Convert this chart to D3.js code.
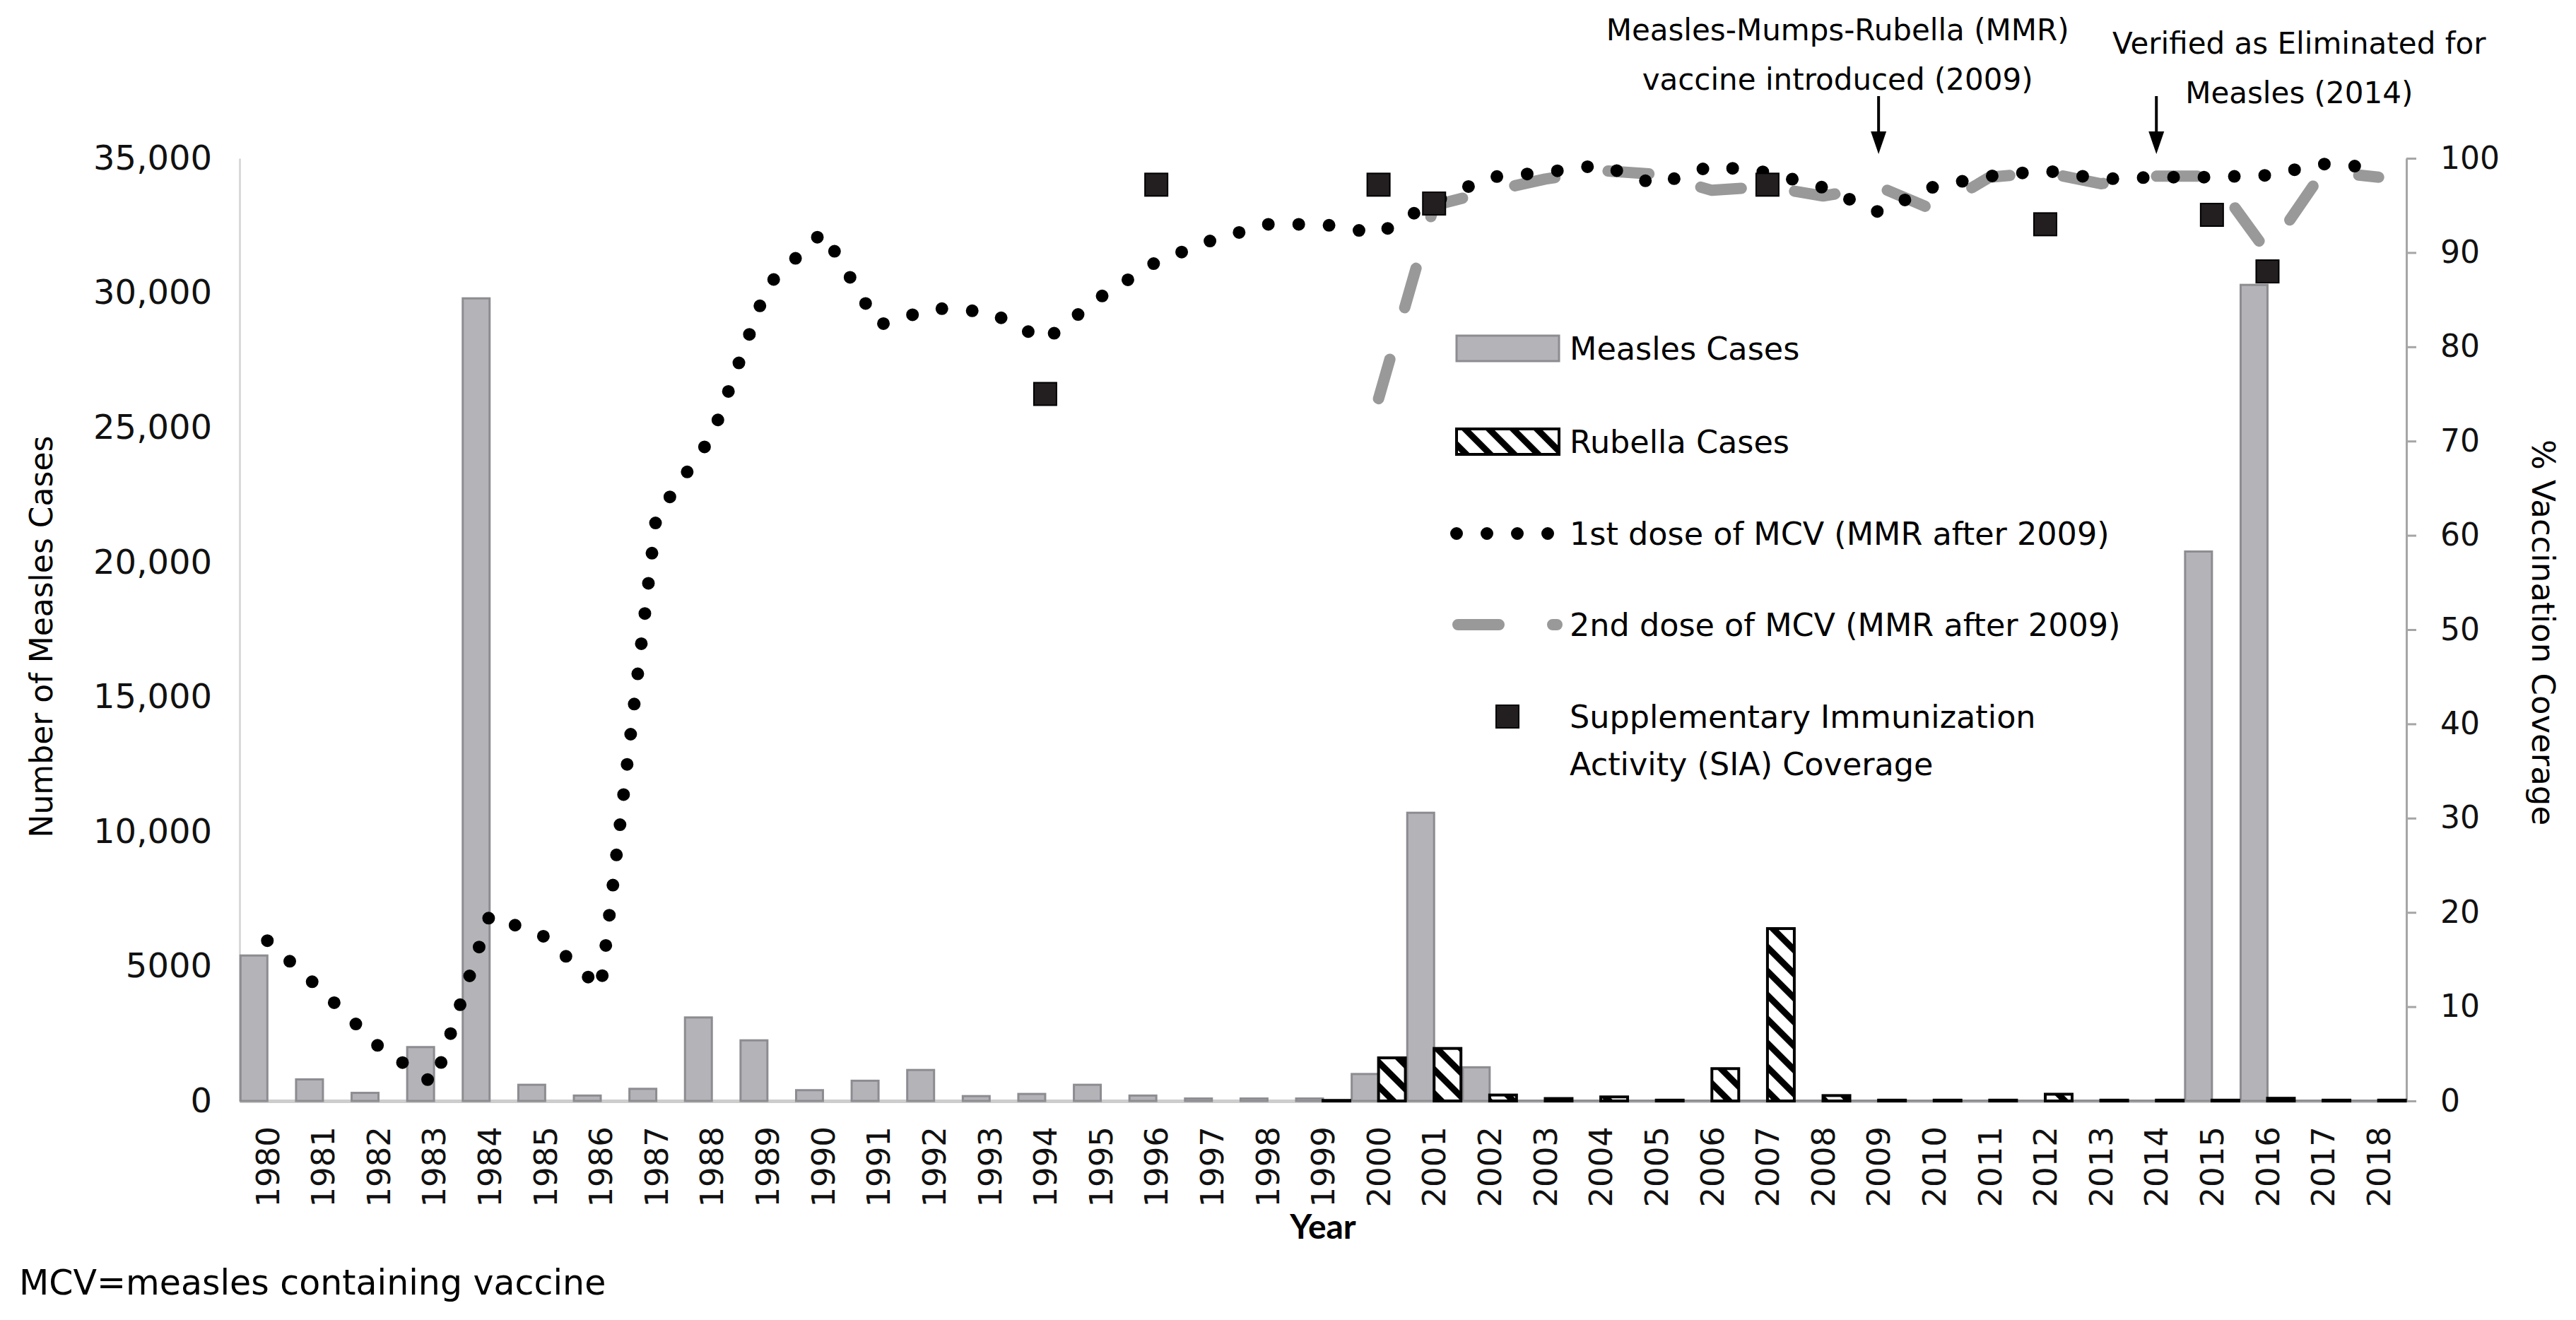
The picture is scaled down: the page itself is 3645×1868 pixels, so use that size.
<!DOCTYPE html>
<html>
<head>
<meta charset="utf-8">
<script src="https://cdnjs.cloudflare.com/ajax/libs/d3/7.8.5/d3.min.js"></script>
<style>
  html, body { margin: 0; padding: 0; background: #fff; }
  svg { display: block; }
</style>
</head>
<body>
<div id="chart"></div>
<script>
var years = ["1980","1981","1982","1983","1984","1985","1986","1987","1988","1989",
             "1990","1991","1992","1993","1994","1995","1996","1997","1998","1999",
             "2000","2001","2002","2003","2004","2005","2006","2007","2008","2009",
             "2010","2011","2012","2013","2014","2015","2016","2017","2018"];

var measlesCases = [5400, 800, 300, 2000, 29800, 600, 200, 450, 3100, 2250,
                    400, 750, 1150, 180, 260, 600, 200, 90, 90, 90,
                    1000, 10700, 1250, 10, 10, 10, 10, 10, 10, 10,
                    10, 10, 10, 10, 10, 20400, 30300, 10, 10];

var rubellaCases = [null, null, null, null, null, null, null, null, null, null,
                    null, null, null, null, null, null, null, null, null, 20,
                    1600, 1950, 220, 90, 150, 30, 1200, 6400, 200, 30,
                    30, 30, 250, 30, 30, 30, 100, 30, 30];

var firstDoseMCV = [17, 11.6, 5.8, 1.8, 19.7, 17.4, 11.9, 62, 70.5, 86.5,
                    92.2, 82.3, 84.1, 83.7, 80.7, 85.3, 89.0, 91.3, 93.0, 93.0,
                    92.0, 95.4, 98.0, 98.5, 99.3, 97.2, 99.2, 98.5, 96.9, 94.3,
                    97.0, 98.1, 98.7, 97.8, 98.0, 98.0, 98.2, 99.4, 99.0];

var secondDoseMCV = [null, null, null, null, null, null, null, null, null, null,
                     null, null, null, null, null, null, null, null, null, null,
                     74.5, 95.0, 96.5, 97.8, 98.7, 98.3, 96.6, 97.0, 96.0, 97.0,
                     94.5, 98.0, 98.5, 97.3, 98.1, 98.1, 90.0, 98.6, 98.0];

var siaYears = ["1994", "1996", "2000", "2001", "2007", "2012", "2015", "2016"];
var siaCoverage = [75, 97.2, 97.2, 95.2, 97.2, 93, 94, 88];

var casesTicks = [0, 5000, 10000, 15000, 20000, 25000, 30000, 35000];
var coverageTicks = [0, 10, 20, 30, 40, 50, 60, 70, 80, 90, 100];

var legendLabels = [["Measles Cases"], ["Rubella Cases"],
                    ["1st dose of MCV (MMR after 2009)"], ["2nd dose of MCV (MMR after 2009)"],
                    ["Supplementary Immunization", "Activity (SIA) Coverage"]];

var notes = [{year: "2009", lines: ["Measles-Mumps-Rubella (MMR)", "vaccine introduced (2009)"]},
             {year: "2014", lines: ["Verified as Eliminated for", "Measles (2014)"]}];

var width = 3645, height = 1868;
var margin = {top: 224, right: 240, bottom: 310, left: 339};
var FONT = "'DejaVu Sans', sans-serif";
var measlesFill = "#b3b3b8", measlesStroke = "#8c8c91";
var dose2Color = "#999999";

var svg = d3.select("#chart").append("svg").attr("width", width).attr("height", height);
svg.append("rect").attr("width", width).attr("height", height).attr("fill", "#fff");

var defs = svg.append("defs");
var hatch = defs.append("pattern").attr("id", "hatch").attr("patternUnits", "userSpaceOnUse")
  .attr("width", 24).attr("height", 24).attr("patternTransform", "rotate(-45)");
hatch.append("rect").attr("width", 24).attr("height", 24).attr("fill", "#fff");
hatch.append("rect").attr("width", 9).attr("height", 24).attr("fill", "#000");

var rows = years.map(function(y, i) {
  return {year: y, measles: measlesCases[i], rubella: rubellaCases[i], d1: firstDoseMCV[i], d2: secondDoseMCV[i]};
});

var x = d3.scaleBand().domain(years).range([margin.left, width - margin.right]).padding(0);
var xs = d3.scaleBand().domain(["measles", "rubella"]).range([0, x.bandwidth()]).paddingInner(0).paddingOuter(0.035);
var yL = d3.scaleLinear().domain([0, 35000]).range([height - margin.bottom, margin.top]);
var yR = d3.scaleLinear().domain([0, 100]).range([height - margin.bottom, margin.top]);
function cx(y) { return x(y) + x.bandwidth() / 2; }

// axes
var gL = svg.append("g").attr("transform", "translate(" + margin.left + ",0)")
  .call(d3.axisLeft(yL).tickValues(casesTicks).tickSize(0).tickSizeOuter(0).tickPadding(39)
    .tickFormat(function(d) { return d >= 10000 ? d3.format(",")(d) : d; }));
gL.attr("font-family", FONT).attr("font-size", 48);
gL.select(".domain").attr("stroke", "#d9d9d9").attr("stroke-width", 3);
gL.selectAll("text").attr("fill", "#111");

var gR = svg.append("g").attr("transform", "translate(" + (width - margin.right) + ",0)")
  .call(d3.axisRight(yR).tickValues(coverageTicks).tickSize(14).tickSizeOuter(0).tickPadding(34));
gR.attr("font-family", FONT).attr("font-size", 44);
gR.select(".domain").attr("stroke", "#a6a6a6").attr("stroke-width", 3);
gR.selectAll(".tick line").attr("stroke", "#a6a6a6").attr("stroke-width", 3);
gR.selectAll("text").attr("fill", "#111");

var gX = svg.append("g").attr("transform", "translate(0," + (height - margin.bottom) + ")")
  .call(d3.axisBottom(x).tickSize(0).tickSizeOuter(0));
gX.attr("font-family", FONT).attr("font-size", 45);
gX.select(".domain").attr("stroke", "#cdcdcd").attr("stroke-width", 5);
gX.selectAll("text").attr("fill", "#111").attr("transform", "rotate(-90)")
  .attr("x", -36).attr("y", 0).attr("dy", "0.36em").style("text-anchor", "end");

// bars
svg.append("g").selectAll("rect").data(rows).enter().append("rect")
  .attr("x", function(d) { return x(d.year) + xs("measles"); })
  .attr("y", function(d) { return yL(d.measles); })
  .attr("width", xs.bandwidth())
  .attr("height", function(d) { return yL(0) - yL(d.measles); })
  .attr("fill", measlesFill).attr("stroke", measlesStroke).attr("stroke-width", 3);

svg.append("g").selectAll("rect").data(rows.filter(function(d) { return d.rubella != null; })).enter().append("rect")
  .attr("x", function(d) { return x(d.year) + xs("rubella"); })
  .attr("y", function(d) { return yL(d.rubella); })
  .attr("width", xs.bandwidth())
  .attr("height", function(d) { return yL(0) - yL(d.rubella); })
  .attr("fill", "url(#hatch)").attr("stroke", "#000").attr("stroke-width", 4);

// coverage lines
var line1 = d3.line().x(function(d) { return cx(d.year); }).y(function(d) { return yR(d.d1); });
var line2 = d3.line().defined(function(d) { return d.d2 != null; })
  .x(function(d) { return cx(d.year); }).y(function(d) { return yR(d.d2); });

svg.append("path").datum(rows).attr("d", line2).attr("fill", "none")
  .attr("stroke", dose2Color).attr("stroke-width", 16).attr("stroke-linecap", "round")
  .attr("stroke-linejoin", "round").attr("stroke-dasharray", "58 76");
svg.append("path").datum(rows).attr("d", line1).attr("fill", "none")
  .attr("stroke", "#000").attr("stroke-width", 18).attr("stroke-linecap", "round")
  .attr("stroke-dasharray", "0 43");

// SIA squares
svg.append("g").selectAll("rect").data(siaYears).enter().append("rect")
  .attr("x", function(d) { return cx(d) - 16; })
  .attr("y", function(d, i) { return yR(siaCoverage[i]) - 16; })
  .attr("width", 32).attr("height", 32)
  .attr("fill", "#231f20").attr("stroke", "#000").attr("stroke-width", 2);

// legend
var lgX = 2061, lgW = 145, lgText = 2221;
var lgY = [493, 625, 755, 884, 1014];
var lg = svg.append("g").attr("font-family", FONT).attr("font-size", 44.5).attr("fill", "#000");
lg.append("rect").attr("x", lgX).attr("y", lgY[0] - 18).attr("width", lgW).attr("height", 36)
  .attr("fill", measlesFill).attr("stroke", measlesStroke).attr("stroke-width", 3);
lg.append("rect").attr("x", lgX).attr("y", lgY[1] - 18).attr("width", lgW).attr("height", 36)
  .attr("fill", "url(#hatch)").attr("stroke", "#000").attr("stroke-width", 4);
lg.append("line").attr("x1", lgX).attr("x2", lgX + 135).attr("y1", lgY[2]).attr("y2", lgY[2])
  .attr("stroke", "#000").attr("stroke-width", 18).attr("stroke-linecap", "round").attr("stroke-dasharray", "0 43");
lg.append("line").attr("x1", 2063).attr("x2", 2203).attr("y1", lgY[3]).attr("y2", lgY[3])
  .attr("stroke", dose2Color).attr("stroke-width", 16).attr("stroke-linecap", "round").attr("stroke-dasharray", "58 76");
lg.append("rect").attr("x", 2117).attr("y", lgY[4] - 16).attr("width", 32).attr("height", 32)
  .attr("fill", "#231f20").attr("stroke", "#000").attr("stroke-width", 2);
legendLabels.forEach(function(lines, i) {
  lines.forEach(function(t, j) {
    lg.append("text").attr("x", lgText).attr("y", lgY[i] + j * 67 + 16).text(t);
  });
});

// annotations with arrows
var noteDx = [-58, 202];
var na = svg.append("g").attr("font-family", FONT).attr("font-size", 42).attr("fill", "#000");
notes.forEach(function(n, i) {
  var ax = cx(n.year);
  n.lines.forEach(function(t, j) {
    na.append("text").attr("x", ax + noteDx[i]).attr("y", (i == 0 ? 57 : 76) + j * 70)
      .attr("text-anchor", "middle").text(t);
  });
  na.append("line").attr("x1", ax).attr("x2", ax).attr("y1", 136).attr("y2", 192)
    .attr("stroke", "#000").attr("stroke-width", 4);
  na.append("path").attr("d", "M" + (ax - 11) + ",186L" + (ax + 11) + ",186L" + ax + ",218Z").attr("fill", "#000");
});

// axis titles
svg.append("text").attr("transform", "translate(58,901) rotate(-90)")
  .attr("text-anchor", "middle").attr("dy", "0.36em")
  .attr("font-family", FONT).attr("font-size", 44).text("Number of Measles Cases");
svg.append("text").attr("transform", "translate(3599,895) rotate(90)")
  .attr("text-anchor", "middle").attr("dy", "0.36em")
  .attr("font-family", FONT).attr("font-size", 45).text("% Vaccination Coverage");
svg.append("text").attr("x", (margin.left + width - margin.right) / 2).attr("y", 1753)
  .attr("text-anchor", "middle").attr("font-family", "Lato, sans-serif").attr("font-weight", "bold")
  .attr("font-size", 48).text("Year");
svg.append("text").attr("x", 27).attr("y", 1832)
  .attr("font-family", FONT).attr("font-size", 49).text("MCV=measles containing vaccine");
</script>
</body>
</html>
